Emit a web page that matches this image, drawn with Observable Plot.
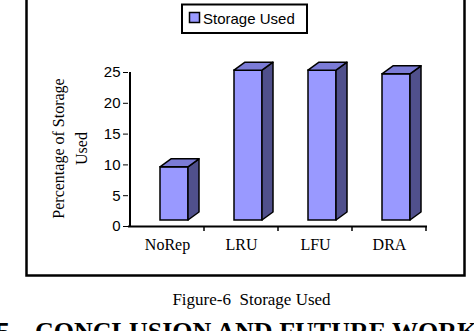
<!DOCTYPE html>
<html>
<head>
<meta charset="utf-8">
<script src="https://cdn.jsdelivr.net/npm/d3@7"></script>
<script src="https://cdn.jsdelivr.net/npm/@observablehq/plot@0.6"></script>
<style>
  html, body { margin: 0; padding: 0; background: white; }
  #chart { width: 474px; height: 331px; overflow: hidden; }
  #chart svg [aria-label^="y-axis"] text { font-family: 'Liberation Sans' !important; font-size: 15px !important; }
  #chart svg [aria-label^="x-axis"] text { font-family: 'Liberation Serif' !important; font-size: 16px !important; }
</style>
</head>
<body>
<div id="chart"></div>
<script>
const categories = ["NoRep", "LRU", "LFU", "DRA"];
const storageUsed = [9.6, 25.3, 25.3, 24.7];
const yTicks = [0, 5, 10, 15, 20, 25];
const seriesName = "Storage Used";
const yTitleLines = ["Percentage of Storage", "Used"];
const captionText = "Figure-6  Storage Used";
const headingNumber = "5";
const headingText = "CONCLUSION AND FUTURE WORK";

const data = categories.map((c, i) => ({category: c, value: storageUsed[i]}));

const FRONT = "#9999ff", TOP = "#7b7bd6", SIDE = "#50508c";
const insetL = 30, insetR = 16, insetB = 6, depthX = 11, depthY = 8;

const plot = Plot.plot({
  width: 474,
  height: 331,
  marginLeft: 128,
  marginRight: 47,
  marginTop: 72,
  marginBottom: 105,
  style: {background: "white", fontFamily: "Liberation Sans", fontSize: "15px", color: "black", overflow: "visible"},
  x: {domain: categories, padding: 0, label: null, tickSize: 0, tickPadding: 12},
  y: {domain: [0, 25], ticks: yTicks, label: null, tickSize: 5, tickPadding: 3},
  marks: [
    Plot.barY(data, {x: "category", y: "value", fill: FRONT, stroke: "black", strokeWidth: 1.5,
      insetLeft: insetL, insetRight: insetR, insetBottom: insetB}),
    Plot.ruleY([0], {stroke: "black", strokeWidth: 2})
  ]
});

document.getElementById("chart").appendChild(plot);

const svg = d3.select(plot);

const xs = plot.scale("x"), ys = plot.scale("y");
const bw = xs.bandwidth;
const y0 = ys.apply(0);

const g = svg.append("g").attr("text-anchor", "start");

// 3D side and top faces
data.forEach(d => {
  const xl = xs.apply(d.category) + insetL;
  const xr = xs.apply(d.category) + bw - insetR;
  const yb = y0 - insetB;
  const yt = ys.apply(d.value);
  g.append("polygon")
    .attr("points", [[xr, yb], [xr + depthX, yb - depthY], [xr + depthX, yt - depthY], [xr, yt]].join(" "))
    .attr("fill", SIDE).attr("stroke", "black").attr("stroke-width", 1.5).attr("stroke-linejoin", "round");
  g.append("polygon")
    .attr("points", [[xl, yt], [xl + depthX, yt - depthY], [xr + depthX, yt - depthY], [xr, yt]].join(" "))
    .attr("fill", TOP).attr("stroke", "black").attr("stroke-width", 1.5).attr("stroke-linejoin", "round");
});

// y axis line
g.append("line").attr("x1", xs.apply(categories[0])).attr("x2", xs.apply(categories[0]))
  .attr("y1", y0 + 1).attr("y2", ys.apply(yTicks[yTicks.length - 1]))
  .attr("stroke", "black").attr("stroke-width", 2);

// x boundary ticks
const bounds = categories.map(c => xs.apply(c)).concat([xs.apply(categories[categories.length - 1]) + bw]);
bounds.slice(1).forEach(x => {
  g.append("line").attr("x1", x).attr("x2", x).attr("y1", y0).attr("y2", y0 + 5)
    .attr("stroke", "black").attr("stroke-width", 1.5);
});

// outer frame
g.append("rect").attr("x", 26.5).attr("y", -10).attr("width", 438).attr("height", 285.5)
  .attr("fill", "none").attr("stroke", "black").attr("stroke-width", 2.5);

// legend
g.append("rect").attr("x", 182).attr("y", 4.5).attr("width", 125).attr("height", 28.5)
  .attr("fill", "white").attr("stroke", "black").attr("stroke-width", 2);
g.append("rect").attr("x", 189.5).attr("y", 12.5).attr("width", 10).attr("height", 10)
  .attr("fill", FRONT).attr("stroke", "black").attr("stroke-width", 1.5);
g.append("text").attr("x", 203).attr("y", 18).attr("dominant-baseline", "central").attr("text-anchor", "start")
  .style("font-family", "'Liberation Sans'").style("font-size", "15px").attr("fill", "black").text(seriesName);

// y title
const titleX = [58, 81.5];
yTitleLines.forEach((t, i) => {
  g.append("text")
    .attr("transform", `translate(${titleX[i]},148.5) rotate(-90)`)
    .attr("text-anchor", "middle").attr("dominant-baseline", "central")
    .style("font-family", "'Liberation Serif'").style("font-size", "16px").attr("fill", "black").text(t);
});

// caption
g.append("text").attr("x", 251.5).attr("y", 305).attr("text-anchor", "middle")
  .style("font-family", "'Liberation Serif'").style("font-size", "17px").attr("fill", "black").text(captionText);

// heading (cut off at bottom)
g.append("text").attr("x", -3).attr("y", 339.5).attr("text-anchor", "start")
  .style("font-family", "'Liberation Serif'").style("font-weight", "bold").style("font-size", "26px").attr("fill", "black").text(headingNumber);
g.append("text").attr("x", 35).attr("y", 339.5).attr("text-anchor", "start")
  .style("font-family", "'Liberation Serif'").style("font-weight", "bold").style("font-size", "26px").attr("fill", "black").text(headingText);
</script>
</body>
</html>
